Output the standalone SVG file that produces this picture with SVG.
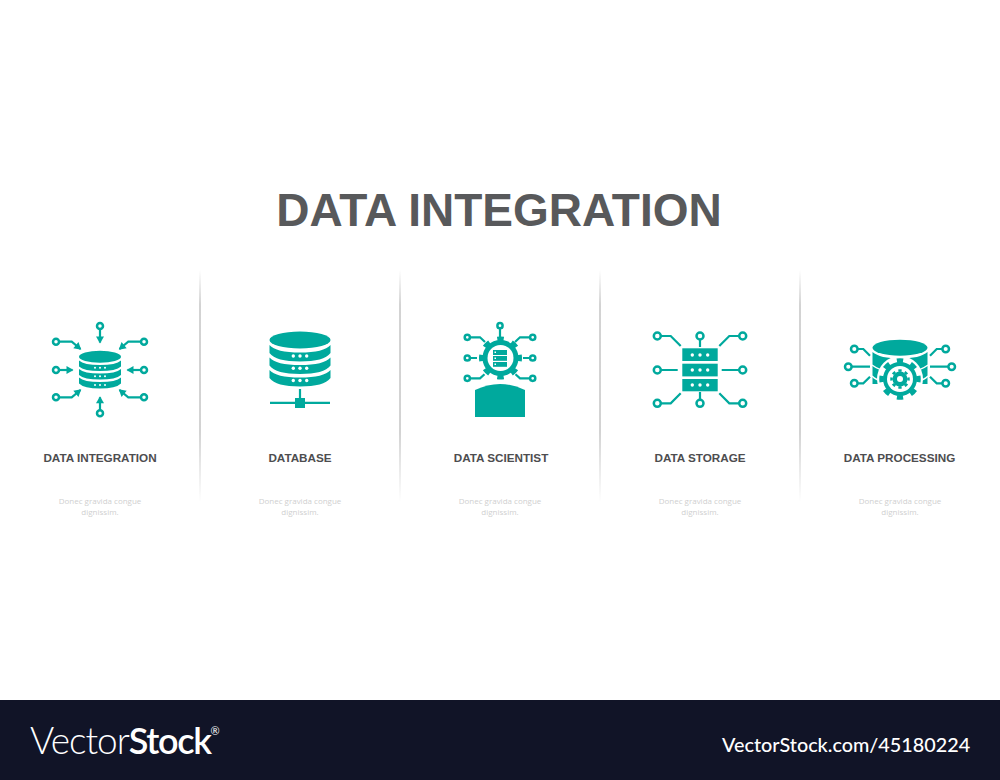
<svg xmlns="http://www.w3.org/2000/svg" width="1000" height="780" viewBox="0 0 1000 780">
<style>
.t{fill:#00a99d}
.l{fill:none;stroke:#00a99d;stroke-width:2.2}
.c{fill:#fff;stroke:#00a99d;stroke-width:2.5}
.w{fill:#fff}
.title{font:bold 46px "Liberation Sans",Arial,sans-serif;fill:#58595b;text-anchor:middle}
.lab{font:bold 11.7px "Liberation Sans",Arial,sans-serif;fill:#4d4d4f;text-anchor:middle}
.desc{font:8px "Open Sans","Noto Sans",sans-serif;fill:#cfcfcf;text-anchor:middle}
</style>
<defs>
<linearGradient id="fade" x1="0" y1="0" x2="0" y2="1">
<stop offset="0" stop-color="#c8c8c8" stop-opacity="0"/>
<stop offset=".15" stop-color="#c8c8c8"/>
<stop offset=".7" stop-color="#c8c8c8"/>
<stop offset="1" stop-color="#c8c8c8" stop-opacity="0"/>
</linearGradient>
<marker id="ah" markerUnits="userSpaceOnUse" markerWidth="9" markerHeight="9" refX="7" refY="4.5" orient="auto"><path d="M1 .5L8 4.500L1 8.500Z" fill="#00a99d"/></marker>
</defs>
<rect width="1000" height="780" fill="#fff"/>
<text class="title" x="499" y="226">DATA INTEGRATION</text>
<g id="dividers">
<rect x="199.200" y="270" width="1.600" height="232" fill="url(#fade)"/>
<rect x="399.200" y="270" width="1.600" height="232" fill="url(#fade)"/>
<rect x="599.200" y="270" width="1.600" height="232" fill="url(#fade)"/>
<rect x="799.200" y="270" width="1.600" height="232" fill="url(#fade)"/>
</g>
<g id="node-data-integration">
<ellipse class="t" cx="100" cy="356.700" rx="21" ry="6"/>
<path class="t" d="M79 360.500Q84 365 100 365Q116 365 121 360.500V366.500Q116 371 100 371Q84 371 79 366.500Z"/>
<path class="t" d="M79 369Q84 373.500 100 373.500Q116 373.500 121 369V375Q116 379.500 100 379.500Q84 379.500 79 375Z"/>
<path class="t" d="M79 377.500Q84 382 100 382Q116 382 121 377.500V383.500Q116 388.500 100 388.500Q84 388.500 79 383.500Z"/>
<g class="w"><circle cx="95" cy="367.800" r="1"/><circle cx="100" cy="367.800" r="1"/><circle cx="105" cy="367.800" r="1"/><circle cx="95" cy="376.300" r="1"/><circle cx="100" cy="376.300" r="1"/><circle cx="105" cy="376.300" r="1"/><circle cx="95" cy="385" r="1"/><circle cx="100" cy="385" r="1"/><circle cx="105" cy="385" r="1"/></g>
<path class="l" marker-end="url(#ah)" d="M100 329V342.500"/>
<path class="l" marker-end="url(#ah)" d="M100 410.500V397.300"/>
<path class="l" marker-end="url(#ah)" d="M59 341.700H71.700L80.500 349"/>
<path class="l" marker-end="url(#ah)" d="M141 341.700H128.300L119.500 349"/>
<path class="l" marker-end="url(#ah)" d="M59 370H72.500"/>
<path class="l" marker-end="url(#ah)" d="M141 370H127.500"/>
<path class="l" marker-end="url(#ah)" d="M59 397.300H71.700L80.500 390"/>
<path class="l" marker-end="url(#ah)" d="M141 397.300H128.300L119.500 390"/>
<circle class="c" cx="100" cy="326" r="3"/><circle class="c" cx="100" cy="413.300" r="3"/>
<circle class="c" cx="56" cy="341.700" r="3"/><circle class="c" cx="144" cy="341.700" r="3"/>
<circle class="c" cx="56" cy="370" r="3"/><circle class="c" cx="144" cy="370" r="3"/>
<circle class="c" cx="56" cy="397.300" r="3"/><circle class="c" cx="144" cy="397.300" r="3"/>
<text class="lab" x="100" y="462">DATA INTEGRATION</text>
<text class="desc" x="100" y="504">Donec gravida congue</text>
<text class="desc" x="100" y="514.500">dignissim.</text>
</g>
<g id="node-database">
<ellipse class="t" cx="300" cy="340" rx="30.500" ry="8.500"/>
<path class="t" d="M269.500 345Q276 352.500 300 352.500Q324 352.500 330.500 345V353Q324 361.500 300 361.500Q276 361.500 269.500 353Z"/>
<path class="t" d="M269.500 357.500Q276 365 300 365Q324 365 330.500 357.500V365.500Q324 374 300 374Q276 374 269.500 365.500Z"/>
<path class="t" d="M269.500 370Q276 377.500 300 377.500Q324 377.500 330.500 370V378Q324 386.500 300 386.500Q276 386.500 269.500 378Z"/>
<g class="w"><circle cx="293.300" cy="356" r="1.700"/><circle cx="300" cy="356" r="1.700"/><circle cx="306.700" cy="356" r="1.700"/><circle cx="293.300" cy="368.300" r="1.700"/><circle cx="300" cy="368.300" r="1.700"/><circle cx="306.700" cy="368.300" r="1.700"/><circle cx="293.300" cy="380.500" r="1.700"/><circle cx="300" cy="380.500" r="1.700"/><circle cx="306.700" cy="380.500" r="1.700"/></g>
<path class="l" d="M300 389V399M270 402.800H330"/>
<rect class="t" x="295" y="398" width="10" height="10"/>
<text class="lab" x="300" y="462">DATABASE</text>
<text class="desc" x="300" y="504">Donec gravida congue</text>
<text class="desc" x="300" y="514.500">dignissim.</text>
</g>
<g id="node-data-scientist">
<circle cx="500.500" cy="358" r="19" fill="none" stroke="#00a99d" stroke-width="5" pathLength="80" stroke-dasharray="4.400 5.600" stroke-dashoffset="2.200"/>
<circle class="t" cx="500.500" cy="358" r="18"/>
<circle class="w" cx="500.500" cy="358" r="13"/>
<rect class="t" x="493" y="350" width="14" height="5"/>
<rect class="t" x="493" y="356" width="14" height="4.800"/>
<rect class="t" x="493" y="362" width="14" height="4.800"/>
<rect class="w" x="494.500" y="351.500" width="1.500" height="1.500"/><rect class="w" x="494.500" y="357.500" width="1.500" height="1.500"/><rect class="w" x="494.500" y="363.500" width="1.500" height="1.500"/>
<path class="t" d="M475 417V390Q500 378 525 390V417Z"/>
<path class="l" d="M500 328V337M470 337.300H480L485 342M530 337.300H520L515 342M470 358H477M530 358H523M470 378.300H480L484.500 374.300M530 378.300H520L515.500 374.300"/>
<circle class="c" cx="500" cy="325.700" r="2.600"/>
<circle class="c" cx="467.300" cy="337.300" r="2.600"/><circle class="c" cx="532.700" cy="337.300" r="2.600"/>
<circle class="c" cx="467.300" cy="358" r="2.600"/><circle class="c" cx="532.700" cy="358" r="2.600"/>
<circle class="c" cx="467.300" cy="378.300" r="2.600"/><circle class="c" cx="532.700" cy="378.300" r="2.600"/>
<text class="lab" x="501" y="462">DATA SCIENTIST</text>
<text class="desc" x="500" y="504">Donec gravida congue</text>
<text class="desc" x="500" y="514.500">dignissim.</text>
</g>
<g id="node-data-storage">
<rect class="t" x="682.300" y="348.300" width="35.400" height="12.700"/>
<rect class="t" x="682.300" y="363.700" width="35.400" height="12.700"/>
<rect class="t" x="682.300" y="379" width="35.400" height="12.300"/>
<g class="w"><circle cx="692.300" cy="355" r="1.700"/><circle cx="700" cy="355" r="1.700"/><circle cx="707.700" cy="355" r="1.700"/><circle cx="692.300" cy="370" r="1.700"/><circle cx="700" cy="370" r="1.700"/><circle cx="707.700" cy="370" r="1.700"/><circle cx="692.300" cy="385" r="1.700"/><circle cx="700" cy="385" r="1.700"/><circle cx="707.700" cy="385" r="1.700"/></g>
<path class="l" d="M661 336H670.700L680.700 346M739 336H729.300L719.300 346M700 339.700V347M661 370H677.700M739 370H721.700M661 403.300H670.700L680.700 393.300M739 403.300H729.300L719.300 393.300M700 399.600V392"/>
<circle class="c" cx="657.300" cy="336" r="3.500"/><circle class="c" cx="742.700" cy="336" r="3.500"/><circle class="c" cx="700" cy="336" r="3.500"/>
<circle class="c" cx="657.300" cy="370" r="3.500"/><circle class="c" cx="742.700" cy="370" r="3.500"/>
<circle class="c" cx="657.300" cy="403.300" r="3.500"/><circle class="c" cx="742.700" cy="403.300" r="3.500"/><circle class="c" cx="700" cy="403.300" r="3.500"/>
<text class="lab" x="700" y="462">DATA STORAGE</text>
<text class="desc" x="700" y="504">Donec gravida congue</text>
<text class="desc" x="700" y="514.500">dignissim.</text>
</g>
<g id="node-data-processing">
<ellipse class="t" cx="900" cy="347.700" rx="27.500" ry="8"/>
<path class="t" d="M872.500 352Q880 358.500 900 358.500Q920 358.500 927.500 352V384H872.500Z"/>
<path class="l" style="stroke:#fff;stroke-width:1.400" d="M872 365Q880 371 890 371.500M928 365Q920 371 910 371.500M872 376Q876 380 882 381M928 376Q924 380 918 381"/>
<circle class="w" cx="900" cy="379" r="23"/>
<circle cx="900" cy="379" r="18.500" fill="none" stroke="#00a99d" stroke-width="4.500" pathLength="80" stroke-dasharray="4.400 5.600" stroke-dashoffset="2.200"/>
<circle class="t" cx="900" cy="379" r="17"/>
<circle class="w" cx="900" cy="379" r="13"/>
<circle cx="900" cy="379" r="8.500" fill="none" stroke="#00a99d" stroke-width="2.500" pathLength="80" stroke-dasharray="5 5" stroke-dashoffset="2.500"/>
<circle class="t" cx="900" cy="379" r="7.500"/>
<circle class="w" cx="900" cy="379" r="3"/>
<path class="l" d="M858 349H863.300L870 355.700M942 349H936.700L930 355.700M852 366.700H870M948 366.700H930M858 383.300H863.300L870 376.700M942 383.300H936.700L930 376.700"/>
<circle class="c" cx="854.300" cy="349" r="3.300"/><circle class="c" cx="945.700" cy="349" r="3.300"/>
<circle class="c" cx="848.300" cy="366.700" r="3.300"/><circle class="c" cx="951.700" cy="366.700" r="3.300"/>
<circle class="c" cx="854.300" cy="383.300" r="3.300"/><circle class="c" cx="945.700" cy="383.300" r="3.300"/>
<text class="lab" x="899.500" y="462">DATA PROCESSING</text>
<text class="desc" x="900" y="504">Donec gravida congue</text>
<text class="desc" x="900" y="514.500">dignissim.</text>
</g>
<g id="footer">
<rect y="700" width="1000" height="80" fill="#111427"/>
<text x="30" y="754" fill="#fff" font-family="Lato,'Open Sans',sans-serif" font-size="37" letter-spacing="-1"><tspan font-weight="300">Vector</tspan><tspan font-weight="600" font-size="36" letter-spacing="-1.300">Stock</tspan></text>
<text x="210.500" y="735" fill="#fff" font-family="Lato,sans-serif" font-size="11">®</text>
<text x="722" y="752" fill="#fff" font-family="Lato,'Open Sans',sans-serif" font-size="19.800" font-weight="500">VectorStock.com/45180224</text>
</g>
</svg>
